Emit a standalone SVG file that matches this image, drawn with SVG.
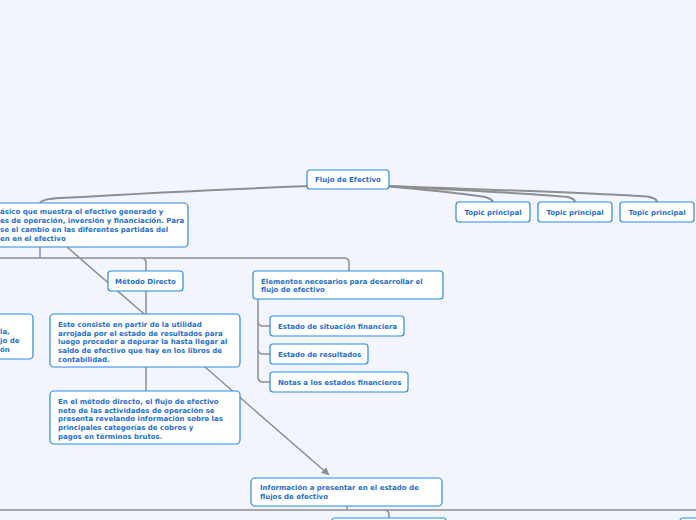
<svg xmlns="http://www.w3.org/2000/svg" width="696" height="520" viewBox="0 0 696 520">
<style>
.n{fill:#fff;stroke:#2a8ae8;stroke-width:1.2}
.t{font-family:"DejaVu Sans",Verdana,sans-serif;font-weight:bold;font-size:7px;fill:#1f6fd1}
.c{fill:none;stroke:#8e8e8e;stroke-width:1.5}
.r{fill:none;stroke:#8e8e8e;stroke-width:2}
</style>
<defs><marker id="a" markerWidth="8" markerHeight="8" refX="6" refY="4" orient="auto" markerUnits="userSpaceOnUse"><path d="M0,0 L8,4 L0,8 Z" fill="#8e8e8e"/></marker></defs>
<rect width="696" height="520" fill="#f2f5fe"/>
<g id="connectors">
<path class="r" d="M310,186 Q200,190 60,198 Q42,199 40,203"/>
<path class="r" d="M385,186 Q470,194 485,197 Q492,199 493,202"/>
<path class="r" d="M385,186 Q540,194 568,197 Q575,199 575,202"/>
<path class="r" d="M385,186 Q620,194 650,197 Q657,199 657,202"/>
<path class="c" d="M40,247 V258 M0,258 H344 Q349,258 349,263 V271 M141,258 Q146,258 146,263 V271"/>
<path class="c" d="M67,247 L328,474" marker-end="url(#a)"/>
<path class="c" d="M146,291 V314 M146,367 V391"/>
<path class="c" d="M258,299 V377 Q258,382 263,382 H270 M258,321 Q258,326 263,326 H270 M258,349 Q258,354 263,354 H270"/>
<path class="c" d="M347,506 V510 M0,510 H696 M384,510 Q389,510 389,515 V520"/>
</g>
<g id="root"><rect class="n" x="307" y="170" width="82" height="19" rx="3"/><text class="t" x="348" y="182" text-anchor="middle">Flujo de Efectivo</text></g>
<g id="topic1"><rect class="n" x="456" y="202" width="74" height="20" rx="3"/><text class="t" x="493" y="215" text-anchor="middle">Topic principal</text></g>
<g id="topic2"><rect class="n" x="538" y="202" width="74" height="20" rx="3"/><text class="t" x="575" y="215" text-anchor="middle">Topic principal</text></g>
<g id="topic3"><rect class="n" x="620" y="202" width="74" height="20" rx="3"/><text class="t" x="657" y="215" text-anchor="middle">Topic principal</text></g>
<g id="def"><rect class="n" x="-10" y="203" width="198" height="44" rx="4"/>
<text class="t" x="0" y="214">ásico que muestra el efectivo generado y</text>
<text class="t" x="0" y="223">es de operación, inversión y financiación. Para</text>
<text class="t" x="0" y="232">se el cambio en las diferentes partidas del</text>
<text class="t" x="0" y="241">en en el efectivo</text></g>
<g id="metodo"><rect class="n" x="108" y="271" width="75" height="20" rx="3"/><text class="t" x="145.5" y="284" text-anchor="middle">Método Directo</text></g>
<g id="elementos"><rect class="n" x="253" y="271" width="190" height="28" rx="3"/>
<text class="t" x="261" y="284">Elementos necesarios para desarrollar el</text>
<text class="t" x="261" y="292">flujo de efectivo</text></g>
<g id="e1"><rect class="n" x="270" y="316" width="134" height="20" rx="3"/><text class="t" x="278" y="329">Estado de situación financiera</text></g>
<g id="e2"><rect class="n" x="270" y="344" width="98" height="20" rx="3"/><text class="t" x="278" y="357">Estado de resultados</text></g>
<g id="e3"><rect class="n" x="270" y="372" width="138" height="20" rx="3"/><text class="t" x="278" y="385">Notas a los estados financieros</text></g>
<g id="left2"><rect class="n" x="-10" y="314" width="43" height="45" rx="4"/>
<text class="t" x="0" y="334">la,</text><text class="t" x="0" y="343">jo de</text><text class="t" x="0" y="352">ón</text></g>
<g id="este"><rect class="n" x="50" y="314" width="190" height="53" rx="4"/>
<text class="t" x="58" y="327">Este consiste en partir de la utilidad</text>
<text class="t" x="58" y="335.7">arrojada por el estado de resultados para</text>
<text class="t" x="58" y="344.4">luego proceder a depurar la hasta llegar al</text>
<text class="t" x="58" y="353.1">saldo de efectivo que hay en los libros de</text>
<text class="t" x="58" y="361.8">contabilidad.</text></g>
<g id="enel"><rect class="n" x="50" y="391" width="190" height="53" rx="4"/>
<text class="t" x="58" y="404">En el método directo, el flujo de efectivo</text>
<text class="t" x="58" y="412.7">neto de las actividades de operación se</text>
<text class="t" x="58" y="421.4">presenta revelando información sobre las</text>
<text class="t" x="58" y="430.1">principales categorías de cobros y</text>
<text class="t" x="58" y="438.8">pagos en términos brutos.</text></g>
<g id="info"><rect class="n" x="251" y="478" width="191" height="28" rx="4"/>
<text class="t" x="260" y="490">Información a presentar en el estado de</text>
<text class="t" x="260" y="499">flujos de efectivo</text></g>
<g id="b1"><rect class="n" x="332" y="518" width="114" height="10" rx="3"/></g>
<g id="b2"><rect class="n" x="680" y="518" width="40" height="10" rx="3"/></g>
</svg>
